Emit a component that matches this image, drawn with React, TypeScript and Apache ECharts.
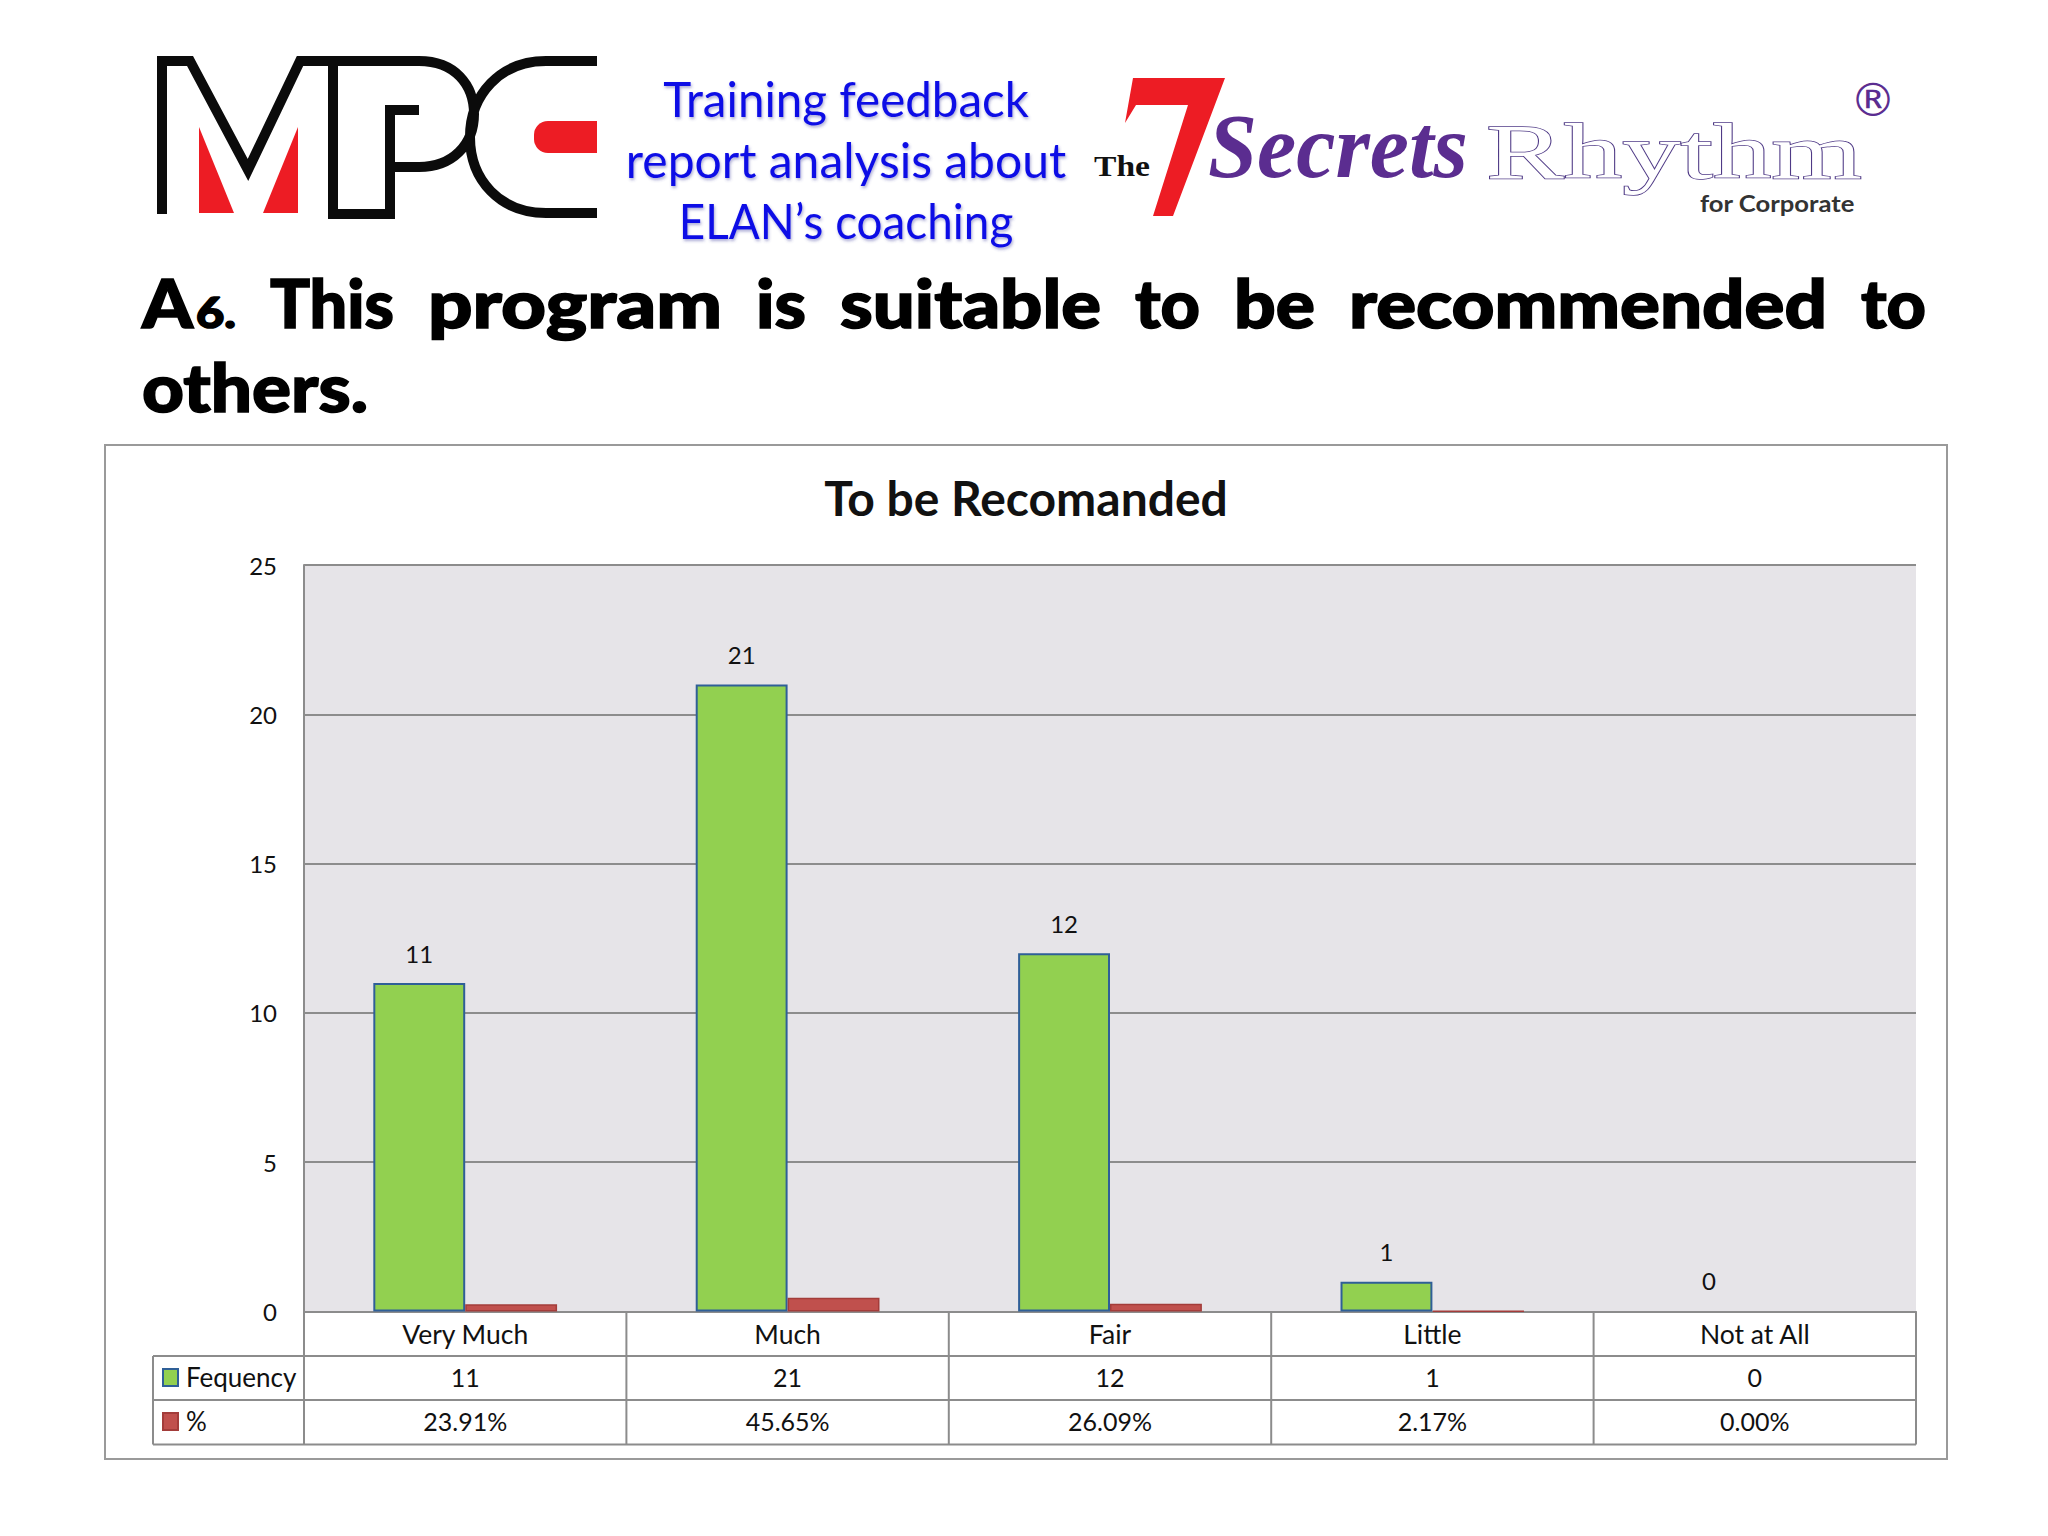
import React, { useEffect, useRef } from "react";
import * as echarts from "echarts";

const categories = ["Very Much", "Much", "Fair", "Little", "Not at All"];
const frequency = [11, 21, 12, 1, 0];
const percent = [0.2391, 0.4565, 0.2609, 0.0217, 0];
const percentLabels = ["23.91%", "45.65%", "26.09%", "2.17%", "0.00%"];
const yTicks = { min: 0, max: 25, interval: 5 };
const seriesNames = ["Fequency", "%"];
const headerLines = ["Training feedback", "report analysis about", "ELAN\u2019s coaching"];
const chartTitle = "To be Recomanded";

const W = 2048, H = 1536;
const G = { l: 304, r: 1916, t: 565, b: 1311.5 };
const rowY = [1311.5, 1356, 1400, 1444.5];
const tableLeft = 153;
const GREEN = "#92D050", GREEN_B = "#2F5F97", RED = "#C0504D", RED_B = "#A33C3A", LINE = "#8C8C8C";
const UI = "Lato";

const ctx = document.createElement("canvas").getContext("2d")!;
function fit(text: string, font: string, width: number) {
  ctx.font = font;
  return width / ctx.measureText(text).width;
}
function fitted(text: string, left: number, right: number, baseline: number, size: number, weight: any, family: string, fill: string, extra: any = {}) {
  const font = `${extra.fontStyle || "normal"} ${weight} ${size}px ${family}`;
  return {
    type: "text", x: left, y: baseline - 0.9 * size, scaleX: fit(text, font, right - left),
    style: { text, fontSize: size, fontWeight: weight, fontFamily: family, fill, textAlign: "left", textBaseline: "alphabetic", ...extra },
  };
}
const line = (x1: number, y1: number, x2: number, y2: number, stroke = LINE, lineWidth = 2) => ({
  type: "line", shape: { x1, y1, x2, y2 }, style: { stroke, lineWidth },
});
const cellText = (text: string, x: number, y: number, align = "center", size = 25) => ({
  type: "text", x, y: y - 1, style: { text, fontSize: size, fontFamily: UI, fill: "#111", textAlign: align, textVerticalAlign: "middle" },
});

const mpcPath = "M162 214 L162 61 L190 61 L248 170 L300 61 L419 61 C455 61 474 85 474 114 C474 145 452 167 419 167 L390 167 L390 214 L333 214 L333 61 M390 167 L390 110 L419 110 M597 61 L546 61 C500 61 470 95 470 137 C470 180 500 213 546 213 L597 213";

export default function App() {
  const ref = useRef<HTMLDivElement>(null);
  useEffect(() => {
    document.body.style.margin = "0";
    echarts.graphic.registerShape("mpcLogo", echarts.graphic.extendPath(mpcPath, {}));
    const chart = echarts.init(ref.current!, undefined, { renderer: "svg" });
    const band = (G.r - G.l) / categories.length;
    const colX = categories.map((_, i) => G.l + band * i);
    const tableLines: any[] = [
      line(G.l, rowY[0], G.l, rowY[3]),
      line(G.r, rowY[0], G.r, rowY[3]),
      line(tableLeft, rowY[1], tableLeft, rowY[3]),
      line(tableLeft, rowY[1], G.r, rowY[1]),
      line(tableLeft, rowY[2], G.r, rowY[2]),
      line(tableLeft, rowY[3], G.r, rowY[3]),
      ...colX.slice(1).map((x) => line(x, rowY[0], x, rowY[3])),
    ];
    const tableTexts: any[] = categories.flatMap((_, i) => [
      cellText(String(frequency[i]), colX[i] + band / 2, (rowY[1] + rowY[2]) / 2),
      cellText(percentLabels[i], colX[i] + band / 2, (rowY[2] + rowY[3]) / 2),
    ]);
    const keys: any[] = [
      { type: "rect", shape: { x: 163, y: 1369, width: 15, height: 17 }, style: { fill: GREEN, stroke: GREEN_B, lineWidth: 2 } },
      { type: "rect", shape: { x: 163, y: 1413, width: 15, height: 17 }, style: { fill: RED, stroke: RED_B, lineWidth: 2 } },
      cellText(seriesNames[0], 186, (rowY[1] + rowY[2]) / 2, "left", 26),
      cellText(seriesNames[1], 186, (rowY[2] + rowY[3]) / 2, "left", 26),
    ];
    const titleFamily = "Lato";
    const heavy = { stroke: "#000", lineWidth: 1.5 };
    const tw = (t: string, l: number, r: number, b: number) => fitted(t, l, r, b, 66, 900, titleFamily, "#000", heavy);
    const heading: any[] = [
      tw("A", 142, 193, 329),
      fitted("6.", 196, 236, 329, 42, 900, titleFamily, "#000", heavy),
      tw("This", 270, 394, 329),
      tw("program", 428, 722, 329),
      tw("is", 756, 806, 329),
      tw("suitable", 840, 1101, 329),
      tw("to", 1135, 1200, 329),
      tw("be", 1234, 1315, 329),
      tw("recommended", 1349, 1827, 329),
      tw("to", 1861, 1926, 329),
      tw("others.", 142, 368, 413),
    ];
    const shadow = { textShadowColor: "rgba(70,70,160,0.45)", textShadowBlur: 3, textShadowOffsetX: 1, textShadowOffsetY: 2 };
    const blue: any[] = headerLines.map((t, i) => ({
      type: "text", x: 846, y: [98, 159.5, 221][i], scaleX: [0.99, 1, 0.955][i],
      style: { text: t, fontSize: 48, fontFamily: UI, fill: "#0A0AE6", textAlign: "center", textVerticalAlign: "middle", ...shadow },
    }));
    const logos: any[] = [
      { type: "mpcLogo", style: { fill: "none", stroke: "#0B0B0B", lineWidth: 10 } },
      { type: "polygon", shape: { points: [[199, 127], [234, 213], [199, 213]] }, style: { fill: "#ED1C24" } },
      { type: "polygon", shape: { points: [[298, 127], [263, 213], [298, 213]] }, style: { fill: "#ED1C24" } },
      { type: "rect", shape: { x: 534, y: 121, width: 63, height: 32, r: [14, 0, 0, 14] }, style: { fill: "#ED1C24" } },
      { type: "polygon", shape: { points: [[1133, 78], [1225, 78], [1173, 216], [1153, 216], [1188, 105], [1136, 105], [1125, 123]] }, style: { fill: "#ED1C24" } },
      fitted("The", 1094, 1150, 178, 30, 700, "Liberation Serif", "#111"),
      fitted("Secrets", 1208, 1468, 183, 92, 700, "Liberation Serif", "#5B2D90", { fontStyle: "italic" }),
      fitted("Rhythm", 1486, 1862, 183, 78, 400, "Liberation Serif", "#fff", { stroke: "#4F3A86", lineWidth: 1.5 }),
      fitted("for Corporate", 1700, 1855, 212, 22, 700, "Lato", "#333"),
      { type: "text", x: 1873, y: 100, style: { text: "\u00AE", fontSize: 46, fontFamily: "DejaVu Sans", fill: "#5B2D90", textAlign: "center", textVerticalAlign: "middle" } },
    ];
    const bars = (vals: number[]) => vals.map((v) => (v === 0 ? { value: v, itemStyle: { opacity: 0 } } : v));
    chart.setOption({
      animation: false,
      backgroundColor: "#fff",
      title: {
        text: chartTitle, left: 1021, top: 468, textAlign: "center",
        textStyle: { fontSize: 48, fontWeight: 700, fontFamily: UI, color: "#111" },
      },
      grid: { left: G.l, top: G.t, width: G.r - G.l, height: G.b - G.t, show: true, backgroundColor: "#E6E4E8", borderWidth: 0 },
      xAxis: {
        type: "category", data: categories, boundaryGap: true,
        axisTick: { show: false },
        axisLine: { lineStyle: { color: LINE, width: 2 } },
        axisLabel: { margin: 9, fontSize: 26.5, fontFamily: UI, color: "#111" },
      },
      yAxis: {
        type: "value", min: yTicks.min, max: yTicks.max, interval: yTicks.interval,
        axisTick: { show: false },
        axisLine: { show: true, lineStyle: { color: LINE, width: 2 } },
        axisLabel: { margin: 27, fontSize: 24, fontFamily: UI, color: "#111", padding: [0, 0, 2, 0] },
        splitLine: { lineStyle: { color: LINE, width: 2 } },
      },
      series: [
        {
          name: seriesNames[0], type: "bar", data: bars(frequency), barGap: 0, barCategoryGap: "43%",
          itemStyle: { color: GREEN, borderColor: GREEN_B, borderWidth: 2 },
          label: { show: true, position: "top", distance: 18, fontSize: 24, fontFamily: UI, color: "#111", opacity: 1 },
        },
        {
          name: seriesNames[1], type: "bar", data: bars(percent),
          itemStyle: { color: RED, borderColor: RED_B, borderWidth: 1.5 },
        },
      ],
      graphic: [
        { type: "rect", shape: { x: 105, y: 445, width: 1842, height: 1014 }, style: { fill: "none", stroke: "#9A9A9A", lineWidth: 2 }, silent: true },
        ...tableLines, ...tableTexts, ...keys, ...heading, ...blue, ...logos,
      ],
    });
    return () => chart.dispose();
  }, []);
  return <div ref={ref} style={{ position: "absolute", left: 0, top: 0, width: W, height: H }} />;
}
